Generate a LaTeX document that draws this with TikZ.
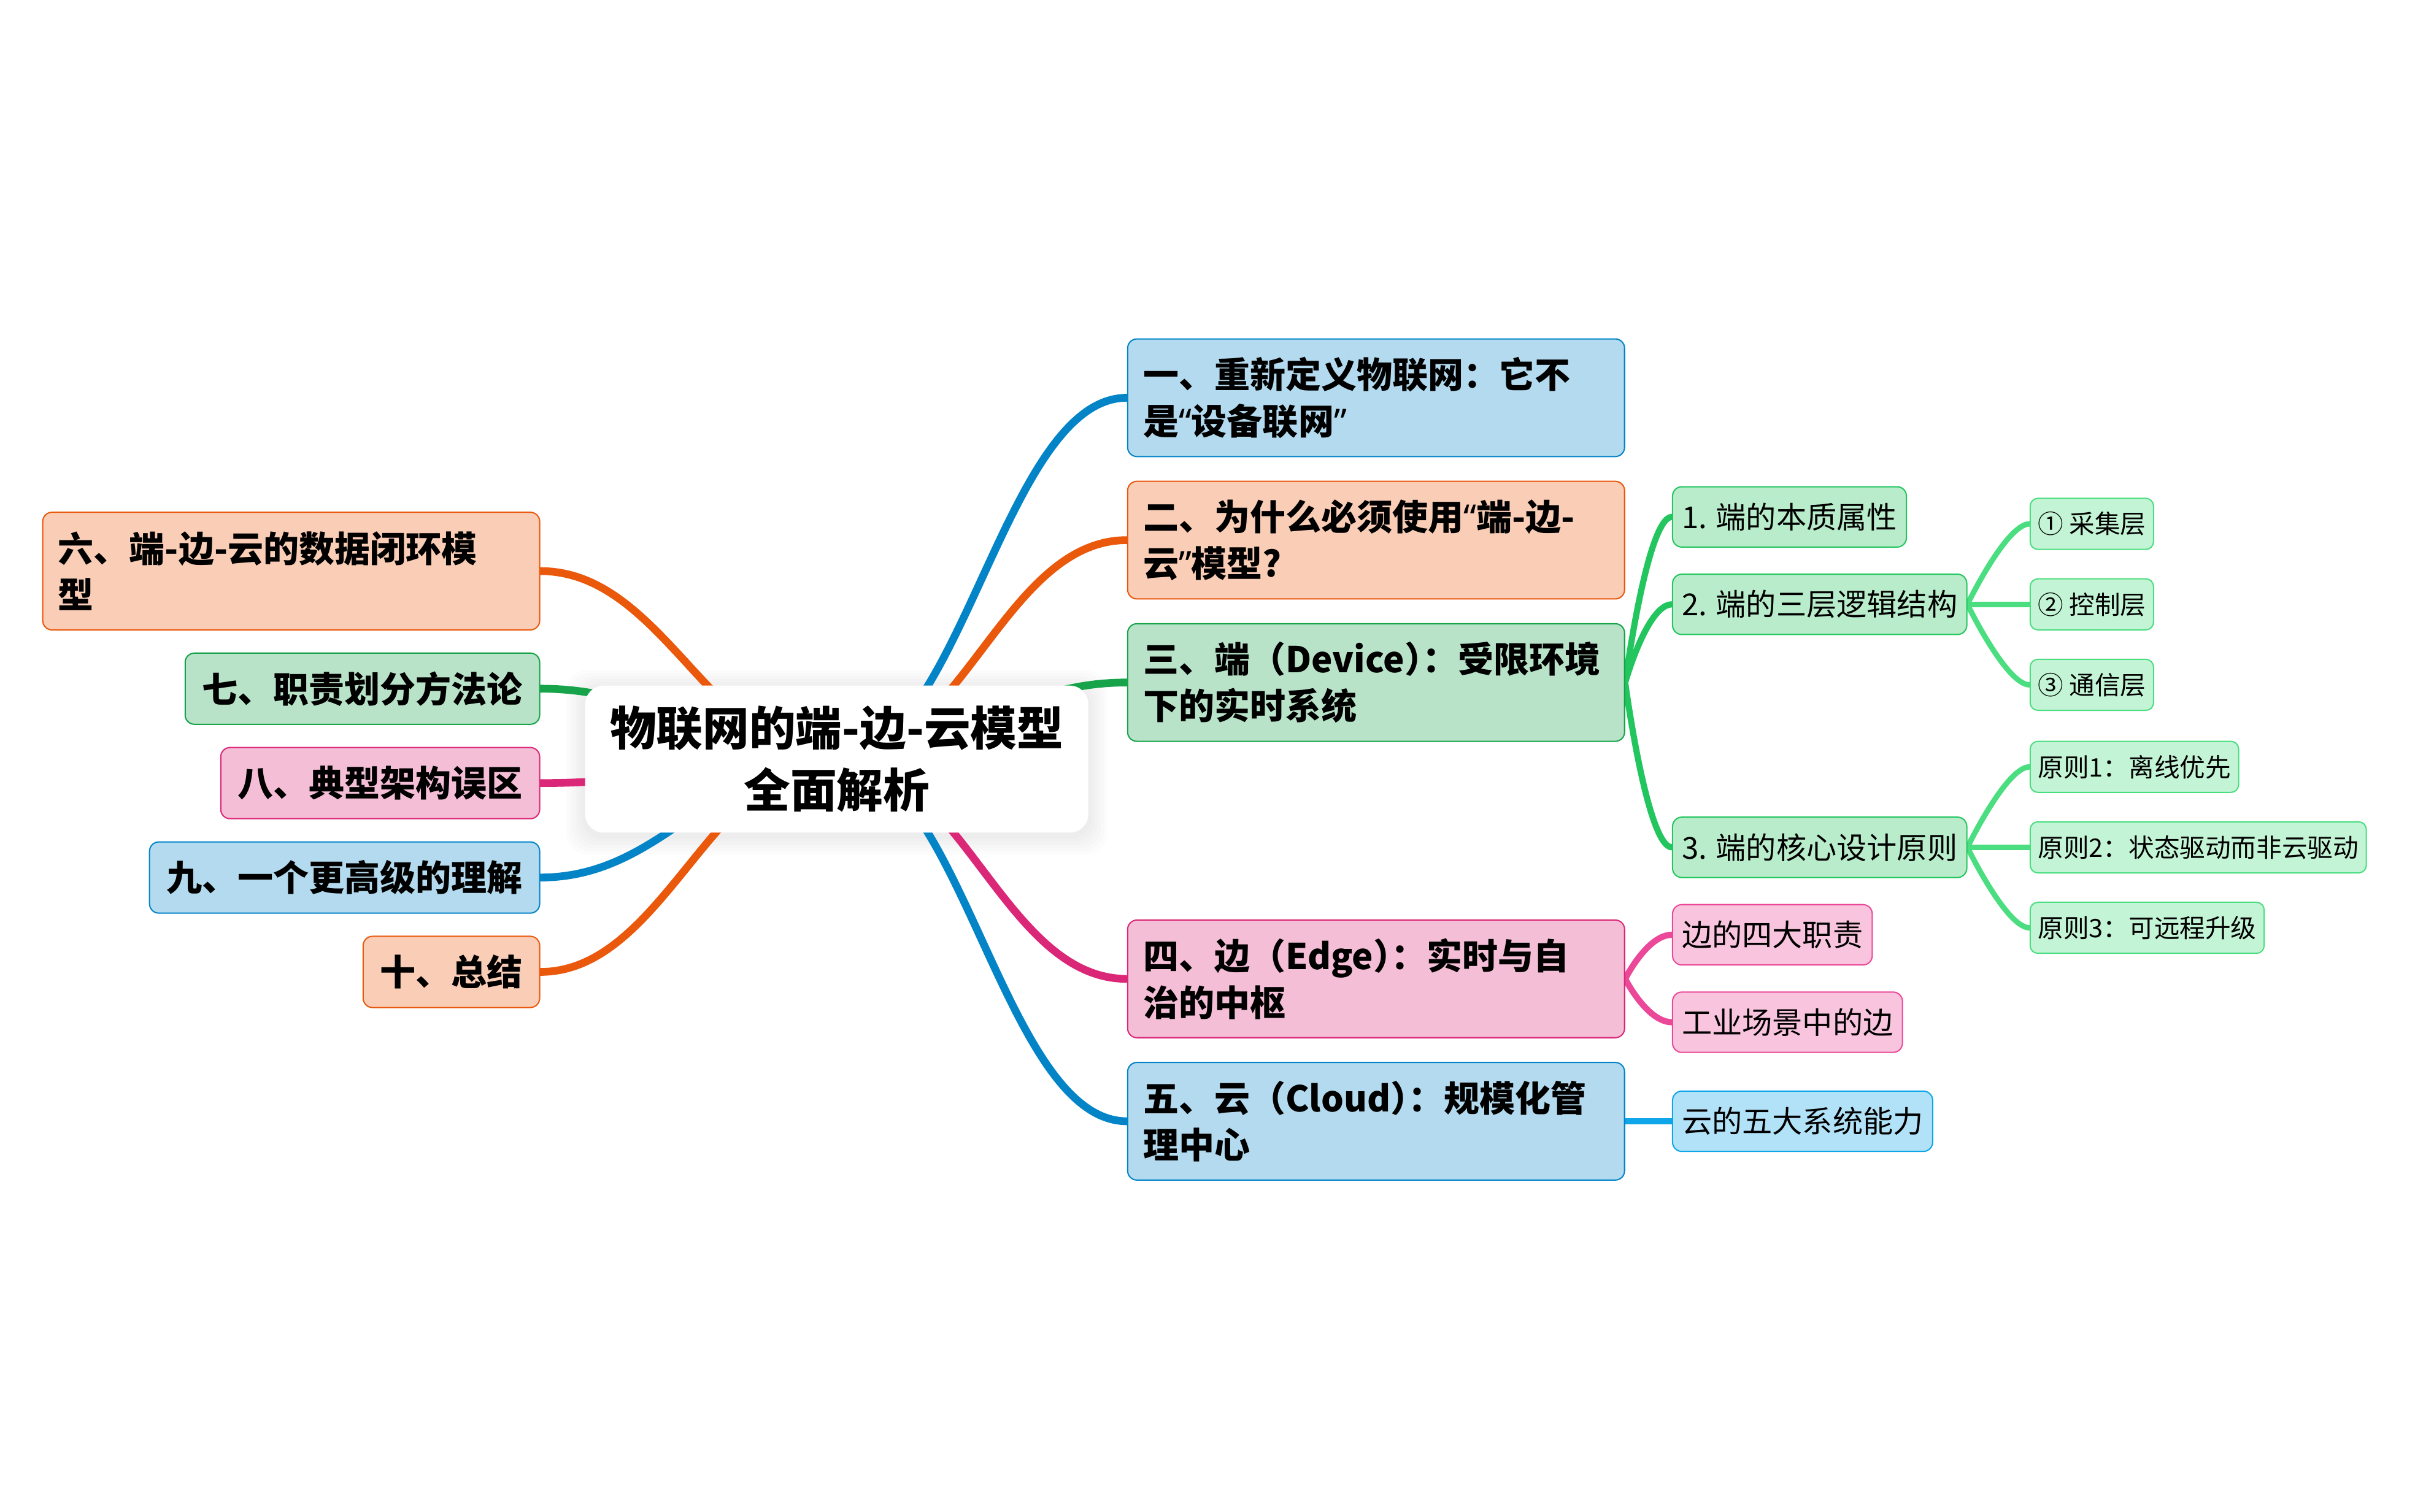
\documentclass[tikz,border=0pt]{standalone}
\usepackage{fontspec}
\newfontfamily\cjk{Noto Sans CJK SC}
\newfontfamily\latin{Noto Sans}
\newcommand\qopen{{\latin “}}
\newcommand\qclose{{\latin ”}}
\newcommand\halfpunct[1]{{\addfontfeature{RawFeature=+halt}#1}}
\usetikzlibrary{calc,backgrounds}
\definecolor{blue6}{HTML}{0284C7}
\definecolor{orange6}{HTML}{EA580C}
\definecolor{green6}{HTML}{16A34A}
\definecolor{pink6}{HTML}{DB2777}
\definecolor{green5}{HTML}{22C55E}
\definecolor{green4}{HTML}{4ADE80}
\definecolor{pink5}{HTML}{EC4899}
\definecolor{sky5}{HTML}{0EA5E9}

\begin{document}
\begin{tikzpicture}[x=1pt, y=1pt,
				box/.style=		{rounded corners=6pt, line width=0.8pt, text=black, anchor=west, inner ysep=0pt},
				rootbox/.style=	{rounded corners=12pt, fill=white, minimum width=325pt, minimum height=95pt, align=center, font=\cjk\bfseries\fontsize{30}{40}\selectfont},
				mainbox/.style=	{box, draw=#1, fill=#1!30, font=\cjk\bfseries\fontsize{23}{30}\selectfont, inner xsep=10pt, minimum height=76pt, text width=301pt, align=left},
				sidebox/.style=	{box, draw=#1, fill=#1!30, font=\cjk\bfseries\fontsize{23}{30}\selectfont, inner xsep=11pt, minimum height=46pt, anchor=east},
				subbox/.style=	{box, draw=#1, fill=#1!32, font=\cjk\fontsize{19.5}{24}\selectfont, inner xsep=6pt, minimum height=39pt},
				leafbox/.style=	{box, rounded corners=5pt, draw=#1, fill=#1!33, font=\cjk\fontsize{16.5}{20}\selectfont, inner xsep=5pt, minimum height=33pt},
				branch/.style=	{draw=#1, line width=5pt, line cap=round},
				subbranch/.style=	{draw=#1, line width=4pt, line cap=round},
				leafbranch/.style=	{draw=#1, line width=3.5pt, line cap=round}]
	\def\bend{80}
	\def\leafdist{52}
	\useasboundingbox (0,0) rectangle (1560,-976.6);

	% centre
	\node[rootbox] (root) at (540.5,-490.5) {物联网的端-边-云模型\\全面解析};

	% right side
	\node[mainbox=blue6] (b1) at (728,-257) {一、重新定义物联网：它不\\是\qopen 设备联网\qclose};
	\node[mainbox=orange6] (b2) at (728,-349) {二、为什么必须使用\qopen 端-边-\\云\qclose 模型?};
	\node[mainbox=green6] (b3) at (728,-441) {三、端（Device\halfpunct{）}：受限环境\\下的实时系统};
	\node[mainbox=pink6] (b4) at (728,-632.5) {四、边（Edge\halfpunct{）}：实时与自\\治的中枢};
	\node[mainbox=blue6] (b5) at (728,-724.5) {五、云（Cloud\halfpunct{）}：规模化管\\理中心};

	% left side
	\node[mainbox=orange6, anchor=east] (b6) at (349,-369) {六、端-边-云的数据闭环模\\型};
	\node[sidebox=green6] (b7) at (349,-445) {七、职责划分方法论};
	\node[sidebox=pink6] (b8) at (349,-506) {八、典型架构误区};
	\node[sidebox=blue6] (b9) at (349,-567) {九、一个更高级的理解};
	\node[sidebox=orange6] (b10) at (349,-628) {十、总结};

	% device
	\node[subbox=green5] (c1) at (1080,-334) {1. 端的本质属性};
	\node[subbox=green5] (c2) at (1080,-390.5) {2. 端的三层逻辑结构};
	\node[subbox=green5] (c3) at (1080,-547.5) {3. 端的核心设计原则};
	\foreach \i/\txt in {1/① 采集层, 2/② 控制层, 3/③ 通信层}
		\node[leafbox=green4] (d\i) at (1311,-390.5-\i*\leafdist+2*\leafdist) {\txt};
	\foreach \i/\txt in {1/原则1：离线优先, 2/原则2：状态驱动而非云驱动, 3/原则3：可远程升级}
		\node[leafbox=green4] (p\i) at (1311,-547.5-\i*\leafdist+2*\leafdist) {\txt};

	% edge and cloud
	\node[subbox=pink5] (e1) at (1080,-604) {边的四大职责};
	\node[subbox=pink5] (e2) at (1080,-660.5) {工业场景中的边};
	\node[subbox=sky5] (f1) at (1080,-724.5) {云的五大系统能力};

	\begin{pgfonlayer}{background}
		\fill[white] (0,0) rectangle (1560,-976.6);
		\foreach \s in {2,4,...,12}
			\fill[black, opacity=0.012, rounded corners=14pt] ($(root.south west)+(-\s,-\s-2)$) rectangle ($(root.north east)+(\s,\s-2)$);

		\foreach \b/\col in {b1/blue6, b2/orange6, b3/green6, b4/pink6, b5/blue6}
			\draw[branch=\col] (root.center) .. controls +(\bend,0) and +(-\bend,0) .. (\b.west);
		\foreach \b/\col in {b6/orange6, b7/green6, b8/pink6, b9/blue6, b10/orange6}
			\draw[branch=\col] (root.center) .. controls +(-\bend,0) and +(\bend,0) .. (\b.east);

		\foreach \c in {1,...,3}
			\draw[subbranch=green5] (b3.east) .. controls +(0,0) and +(-16,0) .. (c\c.west);
		\foreach \d in {1,...,3}
			\draw[leafbranch=green4] (c2.east) .. controls +(0,0) and +(-15,0) .. (d\d.west);
		\foreach \d in {1,...,3}
			\draw[leafbranch=green4] (c3.east) .. controls +(0,0) and +(-15,0) .. (p\d.west);
		\foreach \e in {1,2}
			\draw[subbranch=pink5] (b4.east) .. controls +(0,0) and +(-16,0) .. (e\e.west);
		\draw[subbranch=sky5] (b5.east) -- (f1.west);
	\end{pgfonlayer}
\end{tikzpicture}
\end{document}
